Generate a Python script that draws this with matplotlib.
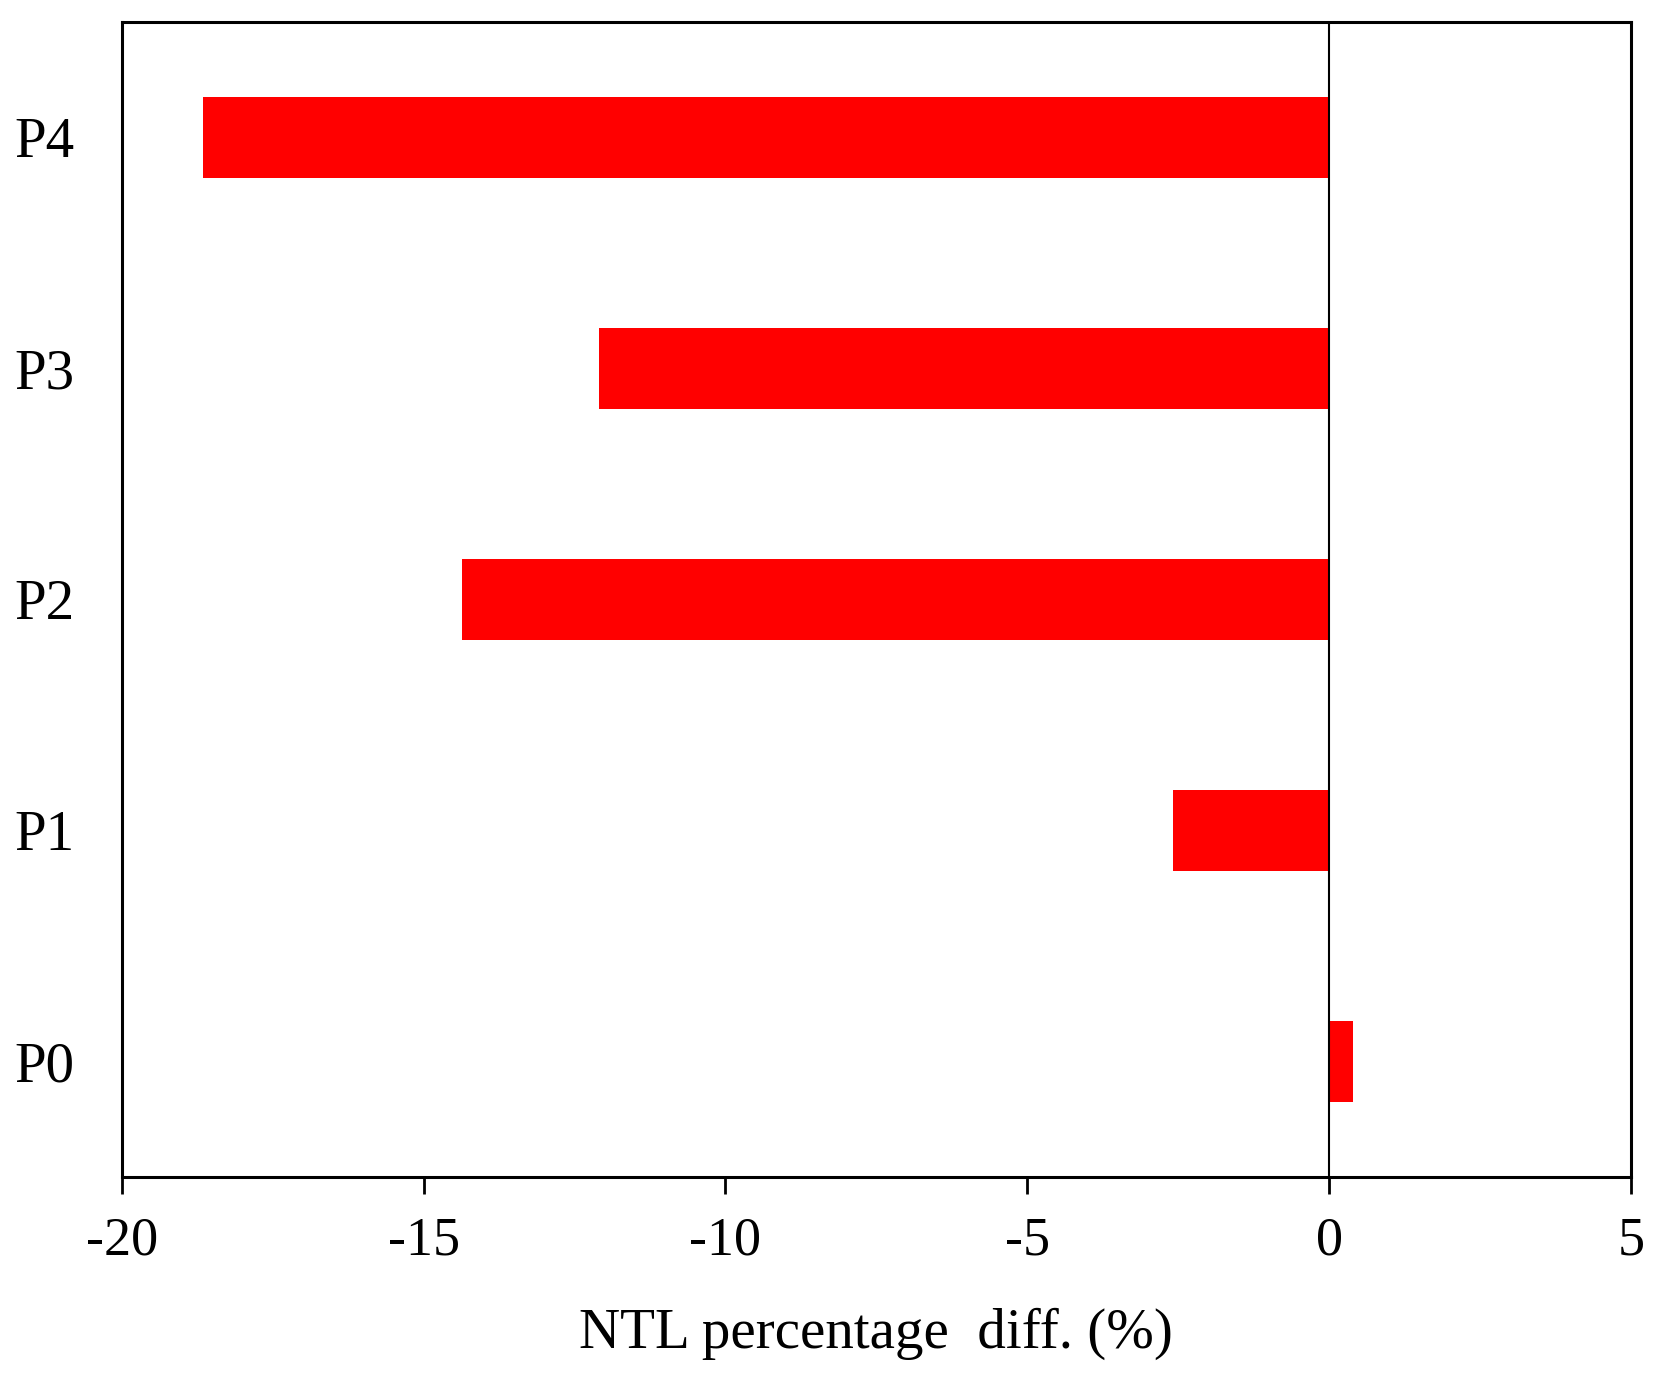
import matplotlib
matplotlib.use("Agg")
import matplotlib.pyplot as plt

categories = ["P0", "P1", "P2", "P3", "P4"]
values = [0.40, -2.58, -14.36, -12.10, -18.65]
xticks = [-20, -15, -10, -5, 0, 5]

plt.rcParams['font.family'] = ['Liberation Serif', 'DejaVu Serif']

fig = plt.figure(figsize=(16.61, 13.75), dpi=100)
ax = fig.add_axes([0.0733, 0.1442, 0.982 - 0.0733, 0.9842 - 0.1442])

ypos = list(range(len(categories)))
ax.barh(ypos, values, height=0.35, color='#ff0000', zorder=2)
ax.axvline(0, color='black', linewidth=1.5, zorder=3)

ax.set_xlim(-20, 5)
ax.set_ylim(-0.5, 4.5)
ax.set_xticks(xticks)
ax.set_xticklabels([str(t) for t in xticks])
ax.set_yticks(ypos)
ax.set_yticklabels(categories)

for s in ax.spines.values():
    s.set_linewidth(2.2)
ax.tick_params(axis='x', direction='out', length=12, width=2, labelsize=39, pad=16)
ax.tick_params(axis='y', length=0, labelsize=41, pad=34)

ax.set_xlabel("NTL percentage  diff. (%)", fontsize=41, labelpad=30)

fig.savefig("out.png", dpi=100)
